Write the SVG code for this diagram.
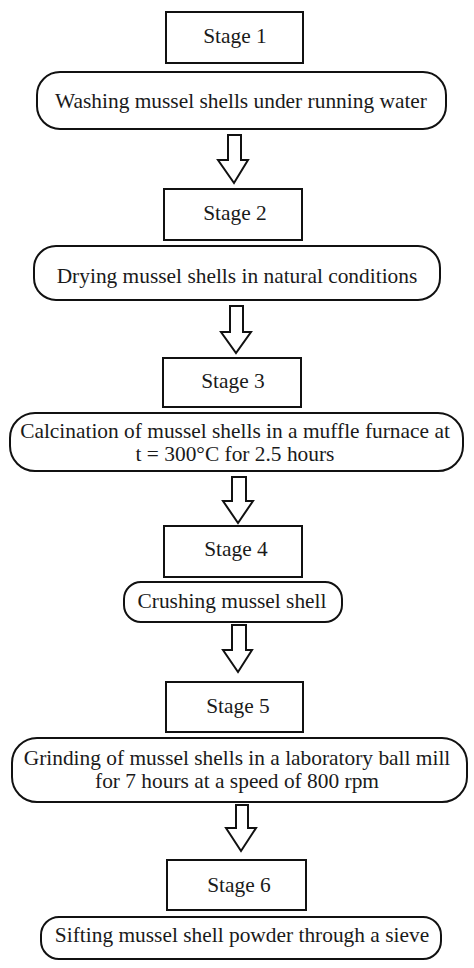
<svg xmlns="http://www.w3.org/2000/svg" width="474" height="968" viewBox="0 0 474 968">
<style>
.box{fill:#fff;stroke:#111;stroke-width:2}
.pill{fill:#fff;stroke:#111;stroke-width:2}
.arr{fill:#fff;stroke:#111;stroke-width:2;stroke-linejoin:miter}
.t{font-family:'Liberation Serif','DejaVu Serif',serif;font-size:21.4px;fill:#1a1a1a;text-anchor:middle}
</style>
<rect width="474" height="968" fill="#fff"/>
<g id="connectors">
<polygon class="arr" points="228,135 241,135 241,160 248,160 234,183 218,160 228,160"/>
<polygon class="arr" points="230,306 243,306 243,332 251,332 236,353 221,332 230,332"/>
<polygon class="arr" points="232,477 246,477 246,501 253,501 238,523 223,501 232,501"/>
<polygon class="arr" points="232,625 246,625 246,650 252,650 238,672 223,650 232,650"/>
<polygon class="arr" points="236,805 248,805 248,828 256,828 241,851 226,828 236,828"/>
</g>
<g id="stage1"><rect class="box" x="166" y="12" width="137" height="51"/><text class="t" x="235" y="43">Stage 1</text></g>
<g id="step1"><rect class="pill" x="37" y="72" width="409" height="57" rx="23"/><text class="t" x="241" y="108">Washing mussel shells under running water</text></g>
<g id="stage2"><rect class="box" x="164" y="189" width="138" height="51"/><text class="t" x="235" y="220">Stage 2</text></g>
<g id="step2"><rect class="pill" x="34" y="246" width="406" height="54" rx="22"/><text class="t" x="237" y="283">Drying mussel shells in natural conditions</text></g>
<g id="stage3"><rect class="box" x="163" y="358" width="138" height="49"/><text class="t" x="233" y="388">Stage 3</text></g>
<g id="step3"><rect class="pill" x="10" y="413" width="453" height="58" rx="25"/><text class="t" x="235" y="438">Calcination of mussel shells in a muffle furnace at</text><text class="t" x="235" y="461">t = 300°C for 2.5 hours</text></g>
<g id="stage4"><rect class="box" x="164" y="526" width="138" height="51"/><text class="t" x="236" y="556">Stage 4</text></g>
<g id="step4"><rect class="pill" x="124" y="582" width="218" height="40" rx="17"/><text class="t" x="232" y="608">Crushing mussel shell</text></g>
<g id="stage5"><rect class="box" x="166" y="682" width="137" height="50"/><text class="t" x="238" y="713">Stage 5</text></g>
<g id="step5"><rect class="pill" x="12" y="738" width="455" height="64" rx="25"/><text class="t" x="237" y="765">Grinding of mussel shells in a laboratory ball mill</text><text class="t" x="237" y="788">for 7 hours at a speed of 800 rpm</text></g>
<g id="stage6"><rect class="box" x="167" y="860" width="139" height="50"/><text class="t" x="239" y="892">Stage 6</text></g>
<g id="step6"><rect class="pill" x="41" y="917" width="400" height="42" rx="18"/><text class="t" x="242" y="942">Sifting mussel shell powder through a sieve</text></g>
</svg>
